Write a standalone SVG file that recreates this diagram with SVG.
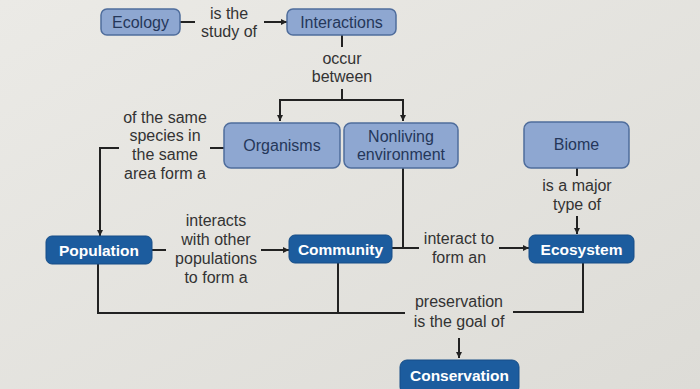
<svg xmlns="http://www.w3.org/2000/svg" width="700" height="389" viewBox="0 0 700 389">
<defs>
<marker id="ah" viewBox="0 0 10 10" refX="10" refY="5" markerWidth="6" markerHeight="6" orient="auto" markerUnits="userSpaceOnUse"><path d="M0,0 L10,5 L0,10 z" fill="#222"/></marker>
<linearGradient id="bg" x1="0" y1="0" x2="1" y2="1"><stop offset="0" stop-color="#ebeae6"/><stop offset="1" stop-color="#dddcd7"/></linearGradient>
</defs>
<style>
.lt{fill:#8ea7d1;stroke:#4f6d9c;stroke-width:1.5}
.dk{fill:#1c5c9e;stroke:#164d87;stroke-width:1}
.lt-t{font-family:"Liberation Sans",Arial,sans-serif;font-size:16px;fill:#25375a;text-anchor:middle}
.dk-t{font-family:"Liberation Sans",Arial,sans-serif;font-size:15.5px;font-weight:bold;fill:#ffffff;text-anchor:middle}
.lbl{font-family:"Liberation Sans",Arial,sans-serif;font-size:16px;fill:#333;text-anchor:middle}
.c{fill:none;stroke:#222;stroke-width:2}
.a{fill:none;stroke:#222;stroke-width:2;marker-end:url(#ah)}
</style>
<rect width="700" height="389" fill="url(#bg)"/>
<g id="connectors">
<line class="c" x1="180" y1="22" x2="195" y2="22"/>
<line class="a" x1="264" y1="22" x2="287" y2="22"/>
<line class="c" x1="342" y1="35" x2="342" y2="47"/>
<polyline class="c" points="342,89 342,100"/>
<line class="c" x1="280" y1="100" x2="403" y2="100"/>
<line class="a" x1="280" y1="99" x2="280" y2="121"/>
<line class="a" x1="403" y1="99" x2="403" y2="121"/>
<line class="c" x1="224" y1="148" x2="210" y2="148"/>
<polyline class="a" points="119,148 100,148 100,236"/>
<line class="c" x1="152" y1="250" x2="166" y2="250"/>
<line class="a" x1="261" y1="250" x2="289" y2="250"/>
<polyline class="c" points="403,168 403,248"/>
<line class="c" x1="392" y1="248" x2="419" y2="248"/>
<line class="a" x1="499" y1="248" x2="529" y2="248"/>
<line class="c" x1="577" y1="168" x2="577" y2="176"/>
<line class="a" x1="577" y1="216" x2="577" y2="234"/>
<polyline class="c" points="98,264 98,313 405,313"/>
<line class="c" x1="338" y1="263" x2="338" y2="313"/>
<polyline class="c" points="513,312 583,312 583,263"/>
<line class="a" x1="459" y1="338" x2="459" y2="358"/>
</g>
<g id="link-labels">
<text class="lbl" x="229" y="19">is the</text>
<text class="lbl" x="229" y="37">study of</text>
<text class="lbl" x="342" y="64">occur</text>
<text class="lbl" x="342" y="82">between</text>
<text class="lbl" x="165" y="123">of the same</text>
<text class="lbl" x="165" y="141">species in</text>
<text class="lbl" x="165" y="160">the same</text>
<text class="lbl" x="165" y="179">area form a</text>
<text class="lbl" x="216" y="226">interacts</text>
<text class="lbl" x="216" y="245">with other</text>
<text class="lbl" x="216" y="264">populations</text>
<text class="lbl" x="216" y="283">to form a</text>
<text class="lbl" x="459" y="244">interact to</text>
<text class="lbl" x="459" y="263">form an</text>
<text class="lbl" x="577" y="191">is a major</text>
<text class="lbl" x="577" y="210">type of</text>
<text class="lbl" x="459" y="307">preservation</text>
<text class="lbl" x="459" y="327">is the goal of</text>
</g>
<g id="ecology"><rect class="lt" x="101" y="9" width="79" height="26" rx="6"/><text class="lt-t" x="140.5" y="27.5">Ecology</text></g>
<g id="interactions"><rect class="lt" x="287" y="9" width="109" height="26" rx="6"/><text class="lt-t" x="341.5" y="27.5">Interactions</text></g>
<g id="organisms"><rect class="lt" x="224" y="123" width="116" height="45" rx="7"/><text class="lt-t" x="282" y="151">Organisms</text></g>
<g id="nonliving"><rect class="lt" x="344" y="123" width="114" height="45" rx="7"/><text class="lt-t" x="401" y="142">Nonliving</text><text class="lt-t" x="401" y="160">environment</text></g>
<g id="biome"><rect class="lt" x="524" y="122" width="105" height="46" rx="7"/><text class="lt-t" x="576.5" y="150">Biome</text></g>
<g id="population"><rect class="dk" x="46" y="236" width="106" height="28" rx="6"/><text class="dk-t" x="99" y="255.5">Population</text></g>
<g id="community"><rect class="dk" x="289" y="235" width="103" height="28" rx="6"/><text class="dk-t" x="340.5" y="254.5">Community</text></g>
<g id="ecosystem"><rect class="dk" x="529" y="235" width="105" height="28" rx="6"/><text class="dk-t" x="581.5" y="254.5">Ecosystem</text></g>
<g id="conservation"><rect class="dk" x="400" y="360" width="119" height="34" rx="7"/><text class="dk-t" x="459.5" y="381">Conservation</text></g>
</svg>
